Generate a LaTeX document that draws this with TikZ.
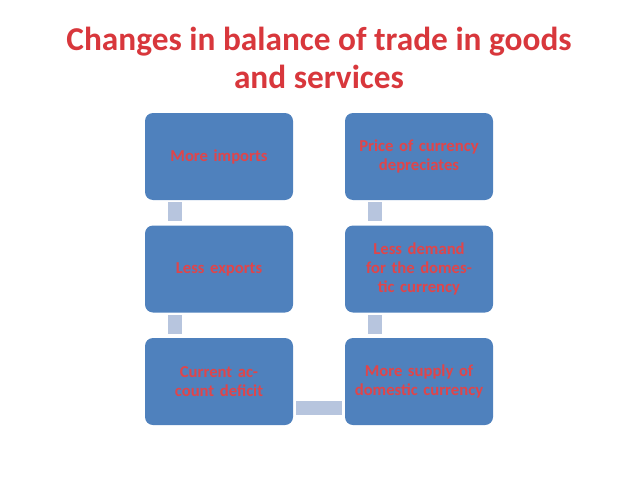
\documentclass[tikz,border=0pt]{standalone}
\usepackage{fontspec}
\setmainfont{Carlito}
\begin{document}
\begin{tikzpicture}[x=0.75pt,y=-0.75pt,
  box/.style={draw=none,fill=boxblue,rounded corners=6pt,minimum width=148*0.75pt,minimum height=87*0.75pt,text width=130*0.75pt,align=center,font=\bfseries\fontsize{12.5}{14}\selectfont,text=txtred,inner sep=0pt},
  link/.style={fill=linkblue,draw=none}]
\definecolor{boxblue}{HTML}{4F81BD}
\definecolor{linkblue}{HTML}{B7C5DE}
\definecolor{txtred}{HTML}{E0454A}
\definecolor{titred}{HTML}{D8373C}
\useasboundingbox (0,0) rectangle (638,478);
\node[font=\bfseries\fontsize{25}{29}\selectfont,text=titred,align=center] (title) at (319,58) {Changes in balance of trade in goods\\and services};
\node[box] (a) at (219,156.5) {More imports};
\node[box] (b) at (219,269) {Less exports};
\node[box] (c) at (219,381.5) {Current account deficit};
\node[box] (d) at (419,156.5) {Price of currency depreciates};
\node[box] (e) at (419,269) {Less demand for the domestic currency};
\node[box] (f) at (419,381.5) {More supply of domestic currency};
\fill[link] ([xshift=-51*0.75pt,yshift=-2*0.75pt]a.south) rectangle ([xshift=-37*0.75pt,yshift=4*0.75pt]b.north);
\fill[link] ([xshift=-51*0.75pt,yshift=-2*0.75pt]b.south) rectangle ([xshift=-37*0.75pt,yshift=4*0.75pt]c.north);
\fill[link] ([xshift=-51*0.75pt,yshift=-2*0.75pt]d.south) rectangle ([xshift=-37*0.75pt,yshift=4*0.75pt]e.north);
\fill[link] ([xshift=-51*0.75pt,yshift=-2*0.75pt]e.south) rectangle ([xshift=-37*0.75pt,yshift=4*0.75pt]f.north);
\fill[link] ([xshift=3*0.75pt,yshift=-33*0.75pt]c.east) rectangle ([xshift=-3*0.75pt,yshift=-19*0.75pt]f.west);
\end{tikzpicture}
\end{document}
